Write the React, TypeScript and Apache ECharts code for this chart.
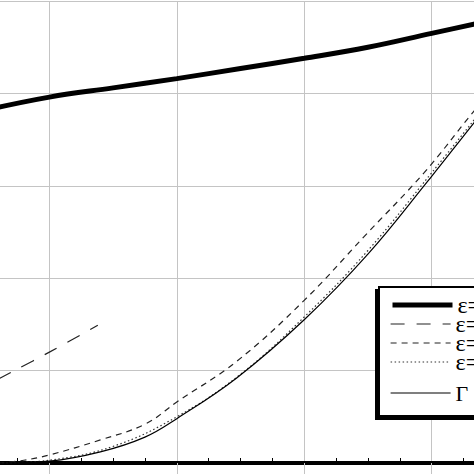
import { useEffect, useRef } from 'react'
import * as echarts from 'echarts'

// the numbers after "ε=" are cut off in the picture
const seriesNames = ['ε=0', 'ε=0.1', 'ε=0.2', 'ε=0.3', 'Γ']

const eps1: [number, number][] = [
  [0.5, 3.82], [1, 3.96], [1.5, 4.06], [2, 4.16], [2.5, 4.27],
  [3, 4.38], [3.5, 4.5], [4, 4.65], [4.5, 4.8],
]
const eps2: [number, number][] = [[0.6, 0.91], [1, 1.2], [1.38, 1.49]]
const eps3: [number, number][] = [
  [0.6, 0], [0.8, 0.03], [1, 0.087], [1.4, 0.25], [1.75, 0.42],
  [2, 0.66], [2.47, 1.1], [3, 1.76], [3.47, 2.45], [3.94, 3.14],
  [4.31, 3.77], [4.5, 4.08],
]
const eps4: [number, number][] = [
  [0.6, 0], [1, 0.03], [1.5, 0.18], [2, 0.5], [2.5, 0.96], [3, 1.58],
  [3.5, 2.3], [4, 3.14], [4.5, 4.0],
]
const gamma: [number, number][] = [
  [0.6, 0], [1, 0.02], [1.4, 0.12], [1.75, 0.28], [2, 0.48],
  [2.47, 0.92], [3, 1.55], [3.5, 2.26], [3.97, 3.05],
  [4.32, 3.66], [4.5, 3.97],
]

const GRID = '#c4c4c4'
const SERIF = '"Liberation Serif", "DejaVu Serif", serif'
// the plot runs past the window on both sides, as in the reference
const SHIFT = 78
// legend rows (centre y) as in the reference
const ROWS = [305, 324, 343, 362, 393]

export default function App() {
  const ref = useRef<HTMLDivElement | null>(null)

  useEffect(() => {
    if (!ref.current) return
    const chart = echarts.init(ref.current, undefined, { renderer: 'svg' })

    const styles = [
      { width: 5, type: 'solid', color: '#000' },
      { width: 1.2, type: [14, 12], color: '#222' },
      { width: 1.2, type: [6, 5], color: '#222' },
      { width: 1.2, type: [1.5, 2.5], color: '#333' },
      { width: 1.2, type: 'solid', color: '#000' },
    ]
    const data = [eps1, eps2, eps3, eps4, gamma]

    chart.setOption({
      animation: false,
      grid: { left: 0, right: 0, top: 1, bottom: 11 },
      xAxis: [
        {
          type: 'value', min: 0, max: 5, interval: 1, position: 'bottom',
          axisLine: { show: true, lineStyle: { color: '#000', width: 4 } },
          axisTick: { show: false, inside: true },
          minorTick: { show: true, splitNumber: 4, length: 5, lineStyle: { color: '#000', width: 1 } },
          axisLabel: { show: false },
          splitLine: { show: true, lineStyle: { color: GRID, width: 1 } },
        },
        {
          type: 'value', min: 0, max: 5, interval: 1, position: 'bottom',
          axisLine: { show: false },
          axisTick: { show: true, length: 12, lineStyle: { color: GRID, width: 1 } },
          axisLabel: { show: false },
          splitLine: { show: false },
        },
      ],
      yAxis: {
        type: 'value', min: 0, max: 5, interval: 1,
        axisLine: { show: false },
        axisTick: { show: false },
        axisLabel: { show: false },
        splitLine: { show: true, lineStyle: { color: GRID, width: 1 } },
      },
      graphic: [
        { type: 'rect', z: 3, shape: { x: SHIFT + 375, y: 289, width: 150, height: 131 }, style: { fill: '#000' } },
        { type: 'rect', z: 3, shape: { x: SHIFT + 379, y: 287, width: 150, height: 129 }, style: { fill: '#fff', stroke: '#000', lineWidth: 2 } },
      ],
      legend: seriesNames.map((n, i) => {
        const fs = i === 4 ? 22 : 24
        return {
          z: 5, left: SHIFT + 390, top: ROWS[i] - fs / 2, padding: 0,
          itemWidth: 60, itemHeight: 14,
          itemStyle: { opacity: 0 },
          textStyle: { fontFamily: SERIF, fontSize: fs, color: '#000' },
          data: [{ name: n, lineStyle: styles[i] }],
        }
      }),
      series: data.map((d, i) => ({
        name: seriesNames[i],
        type: 'line',
        xAxisIndex: 0,
        data: d,
        smooth: 0.4,
        symbol: 'none',
        z: i === 0 ? 2.5 : 2,
        lineStyle: styles[i],
        itemStyle: { color: styles[i].color },
      })),
    })

    return () => chart.dispose()
  }, [])

  return (
    <div
      ref={ref}
      style={{ position: 'fixed', left: -SHIFT, top: 0, width: 474 + SHIFT + 85, height: 474, background: '#fff' }}
    />
  )
}
